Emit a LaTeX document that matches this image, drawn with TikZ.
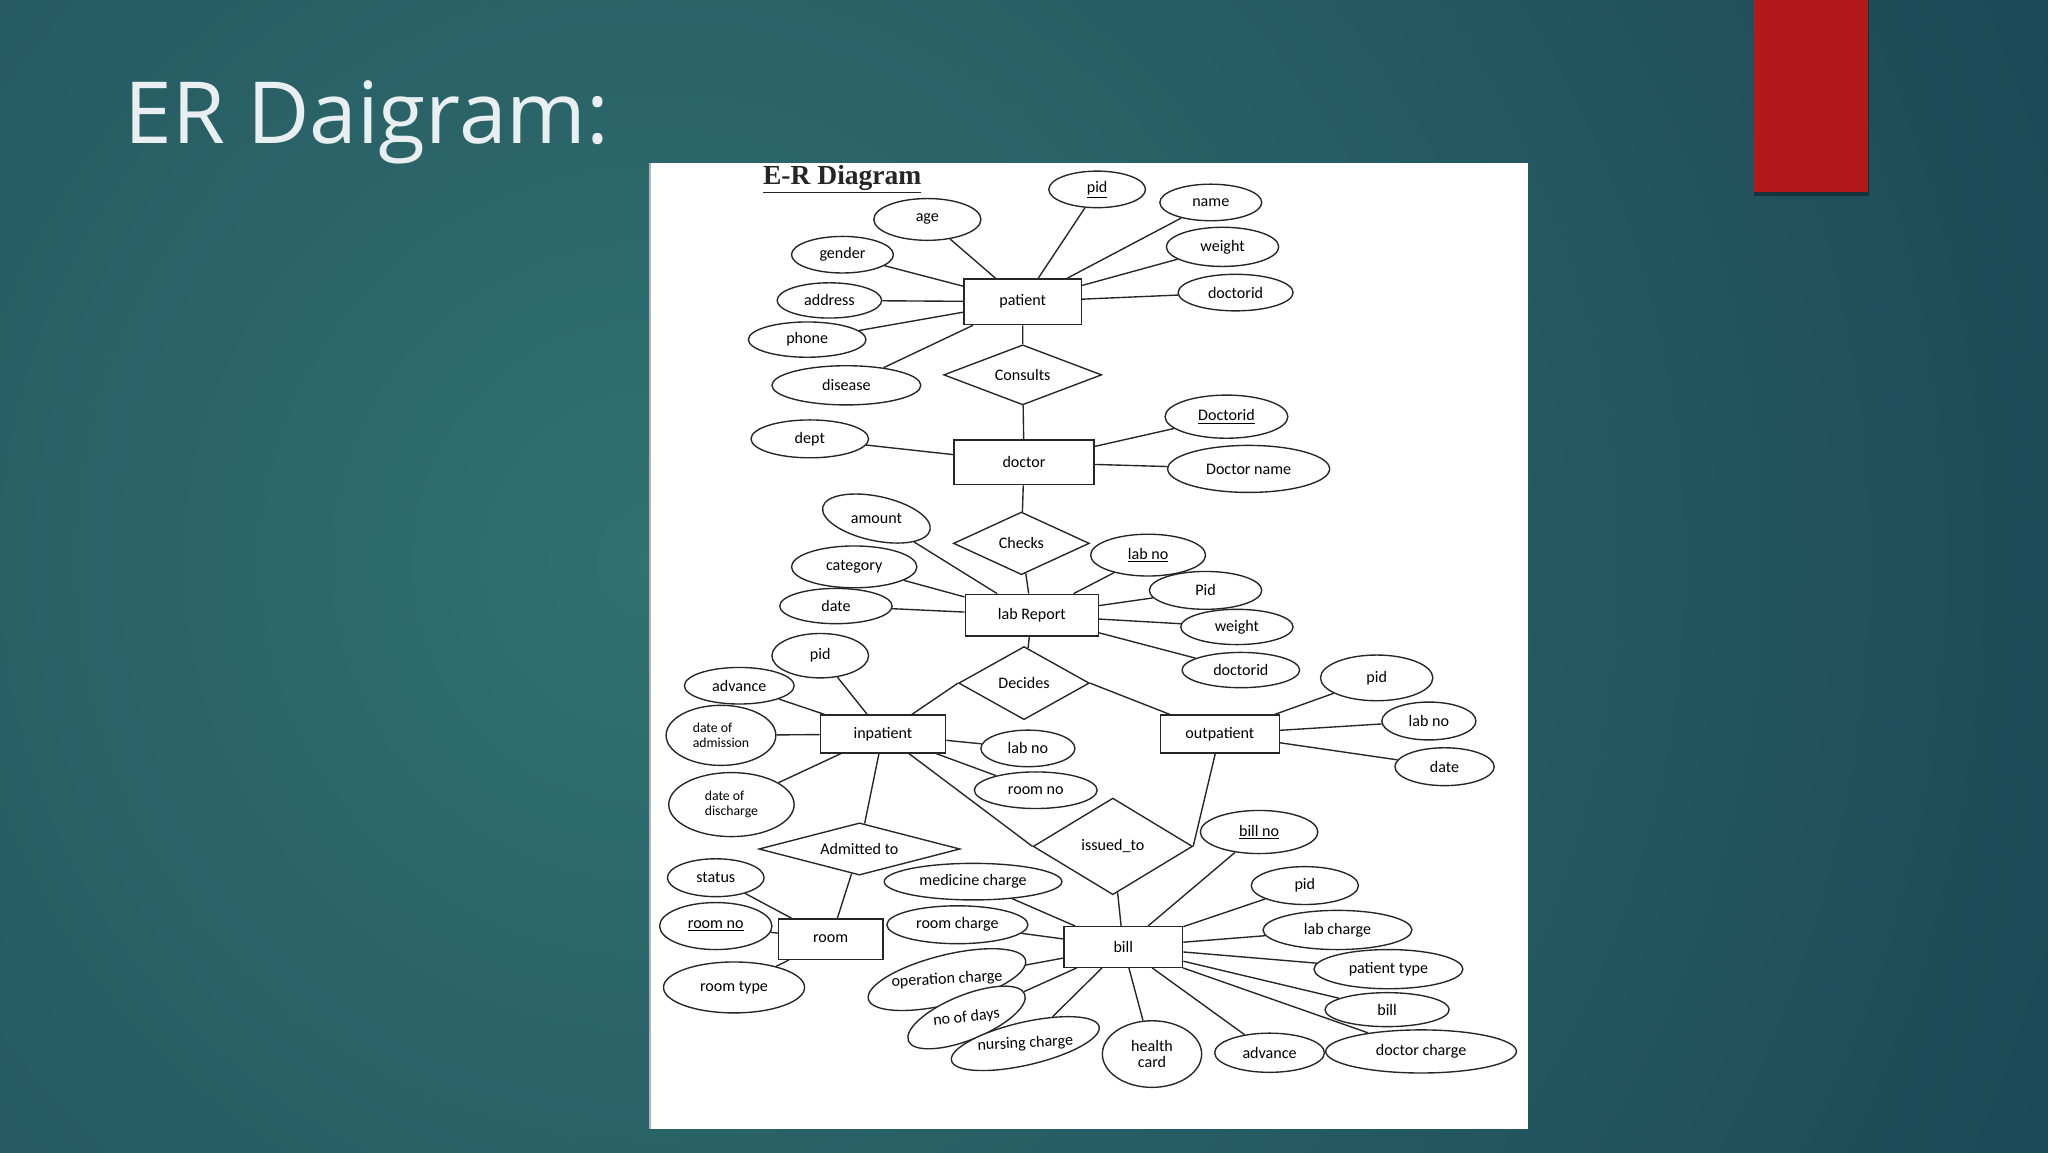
\documentclass[tikz,border=0pt]{standalone}
\usepackage{fontspec}
\setmainfont{Carlito}
\newfontfamily\slidefont{Open Sans}
\newfontfamily\paperfont{Liberation Serif}
\usepackage{tikz}
\usetikzlibrary{shapes.geometric}
\definecolor{deep}{HTML}{11344A}
\definecolor{glow}{HTML}{317171}
\definecolor{accent}{HTML}{B3191B}
\definecolor{ink}{HTML}{262626}
\definecolor{chalk}{HTML}{E9EFF1}

\begin{document}
\begin{tikzpicture}[x=0.03cm, y=-0.03cm, font=\fontsize{10.5}{11}\selectfont,
  ent/.style 2 args={draw=ink, line width=0.9pt, fill=white, minimum width=#1*0.03cm, minimum height=#2*0.03cm, inner sep=0pt},
  attr/.style 2 args={draw=ink, ellipse, line width=0.9pt, fill=white, minimum width=#1*0.03cm, minimum height=#2*0.03cm, inner sep=0pt},
  rel/.style n args={3}{draw=ink, diamond, aspect=#3, line width=0.9pt, fill=white, minimum width=#1*0.03cm, minimum height=#2*0.03cm, inner sep=0pt},
  link/.style={draw=ink, line width=0.9pt}]
\useasboundingbox (0,0) rectangle (1568,882);
% slide background
\begin{scope}
\clip (0,0) rectangle (1568,882);
\shade[inner color=glow, outer color=deep] (500,430) circle (1750);
\end{scope}
\fill[black, opacity=0.35] (1343,0) rectangle (1431,150);
\fill[accent] (1343,0) rectangle (1430,147);
\node[anchor=base west, inner sep=0pt, text=chalk, font=\slidefont\fontsize{56}{60}\selectfont] (title) at (95,110) {ER Daigram:};
% the pasted diagram
\fill[white] (497,125) rectangle (1170,864);
\draw[gray!60, line width=1pt] (497.5,125) -- (497.5,864);
\node[anchor=base west, inner sep=0pt, text=ink, font=\paperfont\bfseries\fontsize{18}{20}\selectfont] (erhead) at (584,141) {\underline{E-R Diagram}};

% patient
\node[ent={90}{35}] (patient) at (783,231) {patient};
\node[attr={82}{32}] (p-age) at (710,168) {age};
\node[attr={78}{28}] (p-gender) at (645,195) {gender};
\node[attr={80}{27}] (p-addr) at (635,230) {address};
\node[attr={90}{27}] (p-phone) at (618,260) {phone};
\node[attr={114}{30}] (p-disease) at (648,295) {disease};
\node[attr={74}{28}] (p-pid) at (840,145) {\underline{pid}};
\node[attr={78}{28}] (p-name) at (927,155) {name};
\node[attr={86}{30}] (p-weight) at (936,189) {weight};
\node[attr={88}{28}] (p-docid) at (946,224) {doctorid};
\node[rel={121}{46}{2.6}] (consults) at (783,287) {Consults};

% doctor
\node[ent={107}{34}] (doctor) at (784,354) {doctor};
\node[attr={90}{29}] (d-dept) at (620,336) {dept};
\node[attr={94}{33}] (d-docid) at (939,319) {\underline{Doctorid}};
\node[attr={124}{36}] (d-name) at (956,359) {Doctor name};
\node[rel={104}{48}{2.2}] (checks) at (782,416) {Checks};

% lab report
\node[ent={102}{32}] (labrep) at (790,471) {lab Report};
\node[attr={84}{34}, rotate=-12] (l-amount) at (671,397) {\rotatebox{12}{amount}};
\node[attr={96}{32}] (l-cat) at (654,434) {category};
\node[attr={86}{27}] (l-date) at (640,464) {date};
\node[attr={88}{32}] (l-labno) at (879,425) {\underline{lab no}};
\node[attr={86}{29}] (l-pid) at (923,452) {Pid};
\node[attr={86}{27}] (l-weight) at (947,480) {weight};
\node[attr={90}{27}] (l-docid) at (950,513) {doctorid};
\node[rel={100}{56}{1.8}] (decides) at (784,523) {Decides};

% inpatient
\node[ent={96}{29}] (inpat) at (676,562) {inpatient};
\node[attr={74}{34}] (i-pid) at (628,502) {pid};
\node[attr={84}{28}] (i-adv) at (566,525) {advance};
\node[attr={84}{46}, align=left, font=\fontsize{9}{10}\selectfont] (i-adm) at (552,563) {date of\\admission};
\node[attr={96}{49}, align=left, font=\fontsize{9}{10}\selectfont] (i-dis) at (560,616) {date of\\discharge};
\node[attr={72}{28}] (i-labno) at (787,573) {lab no};
\node[attr={94}{28}] (i-roomno) at (793,605) {room no};

% outpatient
\node[ent={91}{29}] (outpat) at (934,562) {outpatient};
\node[attr={86}{35}] (o-pid) at (1054,519) {pid};
\node[attr={72}{29}] (o-labno) at (1094,552) {lab no};
\node[attr={76}{29}] (o-date) at (1106,587) {date};

% room
\node[rel={154}{40}{3.85}] (admit) at (658,650) {Admitted to};
\node[ent={80}{31}] (room) at (636,719) {room};
\node[attr={74}{29}] (r-status) at (548,672) {status};
\node[attr={86}{36}] (r-roomno) at (548,709) {\underline{room no}};
\node[attr={108}{39}] (r-type) at (562,756) {room type};

% bill
\node[rel={122}{74}{1.65}] (issued) at (852,648) {issued\_to};
\node[ent={91}{31}] (bill) at (860,725) {bill};
\node[attr={136}{28}] (b-med) at (745,675) {medicine charge};
\node[attr={108}{29}] (b-room) at (733,708) {room charge};
\node[attr={124}{30}, rotate=14] (b-op) at (725,750) {\rotatebox{-11}{operation charge}};
\node[attr={96}{28}, rotate=22] (b-days) at (740,779) {\rotatebox{-16}{no of days}};
\node[attr={116}{30}, rotate=13] (b-nurse) at (785,799) {\rotatebox{-10}{nursing charge}};
\node[attr={76}{51}, align=center] (b-health) at (882,807) {health\\card};
\node[attr={84}{30}] (b-adv) at (972,806) {advance};
\node[attr={146}{33}] (b-doc) at (1088,805) {doctor charge};
\node[attr={95}{26}] (b-bill) at (1062,773) {bill};
\node[attr={114}{30}] (b-ptype) at (1063,742) {patient type};
\node[attr={114}{30}] (b-lab) at (1024,712) {lab charge};
\node[attr={82}{29}] (b-pid) at (999,678) {pid};
\node[attr={90}{33}] (b-billno) at (964,637) {\underline{bill no}};

% connectors
\draw[link] (patient) -- (p-age) (patient) -- (p-gender) (patient) -- (p-addr) (patient) -- (p-phone) (patient) -- (p-disease);
\draw[link] (patient) -- (p-pid) (patient) -- (p-name) (patient) -- (p-weight) (patient) -- (p-docid);
\draw[link] (patient) -- (consults) (consults) -- (doctor);
\draw[link] (doctor) -- (d-dept) (doctor) -- (d-docid) (doctor) -- (d-name);
\draw[link] (doctor) -- (checks) (checks) -- (labrep);
\draw[link] (labrep) -- (l-amount) (labrep) -- (l-cat) (labrep) -- (l-date);
\draw[link] (labrep) -- (l-labno) (labrep) -- (l-pid) (labrep) -- (l-weight) (labrep) -- (l-docid);
\draw[link] (labrep) -- (decides) (decides.west) -- (inpat) (decides.east) -- (outpat);
\draw[link] (inpat) -- (i-pid) (inpat) -- (i-adv) (inpat) -- (i-adm) (inpat) -- (i-dis) (inpat) -- (i-labno) (inpat) -- (i-roomno);
\draw[link] (outpat) -- (o-pid) (outpat) -- (o-labno) (outpat) -- (o-date);
\draw[link] (inpat) -- (admit) (admit) -- (room);
\draw[link] (room) -- (r-status) (room) -- (r-roomno) (room) -- (r-type);
\draw[link] (inpat) -- (issued.west) (outpat) -- (issued.east) (issued) -- (bill);
\draw[link] (bill) -- (b-med) (bill) -- (b-room) (bill) -- (b-op) (bill) -- (b-days) (bill) -- (b-nurse) (bill) -- (b-health);
\draw[link] (bill) -- (b-adv) (bill) -- (b-doc) (bill) -- (b-bill) (bill) -- (b-ptype) (bill) -- (b-lab) (bill) -- (b-pid) (bill) -- (b-billno);
\end{tikzpicture}
\end{document}
